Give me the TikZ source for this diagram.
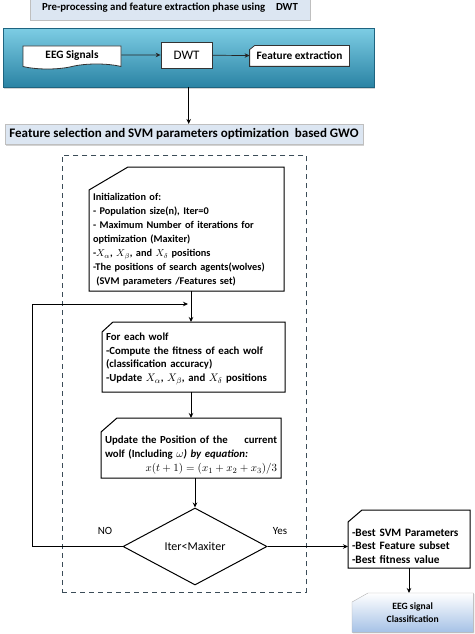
\documentclass[tikz,border=0pt]{standalone}
\usepackage{fontspec}
\setmainfont{Carlito}
\usetikzlibrary{shapes.geometric,shapes.symbols,arrows.meta,shadows}

\definecolor{titleblue}{HTML}{DCE6F2}
\definecolor{tealtop}{HTML}{7DCDE4}
\definecolor{tealbot}{HTML}{2A83A4}
\definecolor{tealedge}{HTML}{1E6480}
\definecolor{clsblue}{HTML}{A5C1E6}
\definecolor{framegray}{HTML}{3B4C58}

% box with one cut corner (north west)
\def\cardcutx{6pt}
\def\cardcuty{6pt}
\makeatletter
\newdimen\card@l \newdimen\card@r \newdimen\card@t \newdimen\card@b
\newdimen\card@cx \newdimen\card@cy
\pgfdeclareshape{cut card}{%
  \inheritsavedanchors[from=rectangle]%
  \savedanchor\cardcut{%
    \pgfmathsetlength\card@cx{\cardcutx}%
    \pgfmathsetlength\card@cy{\cardcuty}%
    \pgf@x=\card@cx \pgf@y=\card@cy}%
  \inheritanchorborder[from=rectangle]%
  \inheritanchor[from=rectangle]{center}%
  \inheritanchor[from=rectangle]{north}%
  \inheritanchor[from=rectangle]{south}%
  \inheritanchor[from=rectangle]{east}%
  \inheritanchor[from=rectangle]{west}%
  \inheritanchor[from=rectangle]{north east}%
  \inheritanchor[from=rectangle]{north west}%
  \inheritanchor[from=rectangle]{south east}%
  \inheritanchor[from=rectangle]{south west}%
  \inheritanchor[from=rectangle]{text}%
  \inheritanchor[from=rectangle]{base}%
  \inheritanchor[from=rectangle]{mid}%
  \backgroundpath{%
    \cardcut \card@cx=\pgf@x \card@cy=\pgf@y
    \southwest \card@l=\pgf@x \card@b=\pgf@y
    \northeast \card@r=\pgf@x \card@t=\pgf@y
    \advance\card@cx by \card@l
    \card@cy=-\card@cy \advance\card@cy by \card@t
    \pgfpathmoveto{\pgfqpoint{\card@r}{\card@t}}%
    \pgfpathlineto{\pgfqpoint{\card@r}{\card@b}}%
    \pgfpathlineto{\pgfqpoint{\card@l}{\card@b}}%
    \pgfpathlineto{\pgfqpoint{\card@l}{\card@cy}}%
    \pgfpathlineto{\pgfqpoint{\card@cx}{\card@t}}%
    \pgfpathclose
  }%
}
\makeatother

\begin{document}
\begin{tikzpicture}[x=1pt,y=-1pt,
            card cut/.code 2 args={\def\cardcutx{#1}\def\cardcuty{#2}},
            title box/.style={draw=gray!50,fill=titleblue,inner sep=0,outer sep=0,
                             drop shadow={shadow xshift=1pt,shadow yshift=-1.5pt,opacity=.35}},
            teal box/.style={draw=tealedge,top color=tealtop,bottom color=tealbot,inner sep=0,
                             drop shadow={shadow xshift=1pt,shadow yshift=-1.5pt,opacity=.35}},
            white box/.style={draw=black!80,fill=white,line width=0.8pt,inner sep=0,
                             font=\fontsize{11.3}{13}\selectfont\bfseries},
            card/.style={cut card,draw,fill=white,line width=1pt,inner sep=4pt,outer sep=0,align=left,
                             anchor=north west,font=\fontsize{10.3}{14}\selectfont\bfseries},
            text down/.style={execute at end node={\endgraf\vspace*{-#1}}},
            flow/.style={-{Stealth[length=5pt,width=4.5pt]},line width=1pt},
            thin flow/.style={-{Stealth[length=5pt,width=4.5pt]},line width=0.7pt,draw=black!85},
            gwo frame/.style={draw=framegray,dash pattern=on 5pt off 4pt,line width=0.9pt,inner sep=0}]
            % bounding box
            \useasboundingbox (0,0) rectangle (474,634);
            %==================
            \node[title box,minimum width=280pt,minimum height=24pt,anchor=north west,
                  font=\fontsize{10.8}{13}\selectfont\bfseries] (pretitle) at (30,-4)
                {Pre-processing and feature extraction phase using\quad DWT};
            \node[teal box,minimum width=371pt,minimum height=59pt,anchor=north west] (dwtphase) at (3,28) {};
            \node[white box,tape,tape bend top=none,tape bend height=5pt,minimum width=98pt,
                  minimum height=23pt] (eeg) at (72,55) {EEG Signals};
            \node[white box,minimum width=51pt,minimum height=26pt,
                  font=\fontsize{13}{15}\selectfont] (dwt) at (186.5,55) {DWT};
            \node[white box,cut card,card cut={5pt}{4pt},
                  minimum width=99pt,minimum height=20pt] (featx) at (299.5,56) {Feature extraction};
            \draw[thin flow] (eeg) -- (dwt);
            \draw[thin flow] (dwt) -- (featx);
            %==================
            \node[title box,minimum width=358pt,minimum height=20pt,anchor=north west,
                  font=\fontsize{13}{15}\selectfont\bfseries] (gwotitle) at (5,124)
                {Feature selection and SVM parameters optimization\ \ based GWO};
            \draw[flow] (dwtphase.south) -- (dwtphase.south |- gwotitle.north);
            \node[gwo frame,minimum width=244pt,minimum height=437pt,anchor=north west] (gwoframe) at (62,155) {};
            %==================
            \coordinate (spine) at (191,0);
            \node[card,card cut={39pt}{23pt},text width=187pt,minimum height=124pt,
                  text down=22pt] (init) at (89,167)
                {Initialization of:\\
                 - Population size(n), Iter=0\\
                 - Maximum Number of iterations for\\
                 optimization (Maxiter)\\
                 -$X_\alpha$, $X_\beta$, and $X_\delta$ positions\\
                 -The positions of search agents(wolves)\\
                 \ (SVM parameters /Features set)};
            \node[card,card cut={11pt}{10pt},text width=175pt,minimum height=70pt,
                  font=\fontsize{10.8}{13.5}\selectfont\bfseries,text down=4pt] (foreach) at (102,322)
                {For each wolf\\
                 -Compute the fitness of each wolf\\
                 (classification accuracy)\\
                 -Update $X_\alpha$, $X_\beta$, and $X_\delta$ positions};
            \node[card,card cut={16pt}{14pt},text width=172pt,minimum height=60pt,
                  font=\fontsize{10.8}{14}\selectfont\bfseries,text down=14pt] (update) at (101,418)
                {Update the Position of the\hfill current\\
                 wolf (Including \textit{$\omega$) by equation:}\\
                 \hspace*{\fill}\mdseries$x(t+1)=(x_1+x_2+x_3)/3$\hspace*{\fill}};
            \node[diamond,draw,line width=1pt,fill=white,minimum width=144pt,minimum height=77pt,
                  inner sep=0,font=\fontsize{12}{14}\selectfont] (cond) at (195,546.5) {Iter<Maxiter};
            % ===================
            \draw[flow] (init.south -| spine) -- (foreach.north -| spine);
            \draw[flow] (foreach.south -| spine) -- (update.north -| spine);
            \draw[flow] (update.south -| cond.north) -- (cond.north);
            \coordinate (loopin) at (188,304);
            \coordinate (loopcorner) at (32,0);
            \draw[flow] (cond.west) -| (loopcorner |- loopin) -- (loopin);
            \node[font=\fontsize{11}{13}\selectfont] (nolabel) at (105,531) {NO};
            \node[font=\fontsize{11}{13}\selectfont] (yeslabel) at (280,531) {Yes};
            % ===================
            \node[card,card cut={14pt}{12pt},text width=114pt,minimum height=58pt,
                  font=\fontsize{11.3}{13.5}\selectfont\bfseries,text down=14pt] (best) at (348,510)
                {-Best SVM Parameters\\
                 -Best Feature subset\\
                 -Best fitness value};
            \draw[flow] (cond.east) -- (cond.east -| best.west);
            \node[cut card,card cut={16pt}{9pt},draw=gray!60,top color=white,bottom color=clsblue,
                  inner sep=0,align=center,minimum width=121pt,minimum height=39pt,anchor=north west,
                  font=\fontsize{9.6}{13}\selectfont\bfseries,
                  drop shadow={shadow xshift=1pt,shadow yshift=-1pt,opacity=.3}] (cls) at (352,593)
                {EEG signal\\Classification};
            \draw[flow] (best.south) -- (best.south |- cls.north);
        \end{tikzpicture}
\end{document}
